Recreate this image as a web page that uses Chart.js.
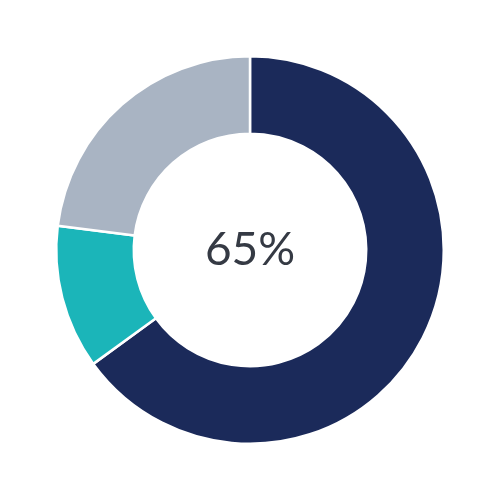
<!DOCTYPE html>
<html>
<head>
<meta charset="utf-8">
<script src="https://cdn.jsdelivr.net/npm/chart.js@4"></script>
<style>
  html, body { margin: 0; padding: 0; background: #ffffff; }
  #wrap { width: 500px; height: 500px; }
</style>
</head>
<body>
<div id="wrap"><canvas id="chart"></canvas></div>
<script>
var labels = ['A', 'B', 'C'];
var valores = [65, 12, 23];
var colores = ['#1b2a5a', '#1bb5b9', '#a9b4c3'];
var centerText = '65%';

const centro = {
    id: 'centro',
    afterDraw(chart, args, options) {
        const {ctx, chartArea: {top, left, width, height}} = chart;
        ctx.save();
        ctx.font = '400 46px Lato';
        ctx.fillStyle = '#353a44';
        ctx.textAlign = 'center';
        ctx.textBaseline = 'middle';
        ctx.fillText(options.text, left + width / 2, top + height / 2);
        ctx.restore();
    }
};

new Chart(document.getElementById('chart'), {
    type: 'doughnut',
    data: {
        labels: labels,
        datasets: [{
            data: valores,
            backgroundColor: colores,
            borderColor: '#ffffff',
            borderWidth: 2.5
        }]
    },
    options: {
        responsive: true,
        maintainAspectRatio: false,
        animation: false,
        cutout: '60%',
        layout: { padding: 55 },
        plugins: {
            legend: { display: false },
            tooltip: { enabled: false },
            centro: { text: centerText }
        }
    },
    plugins: [centro]
});
</script>
</body>
</html>
